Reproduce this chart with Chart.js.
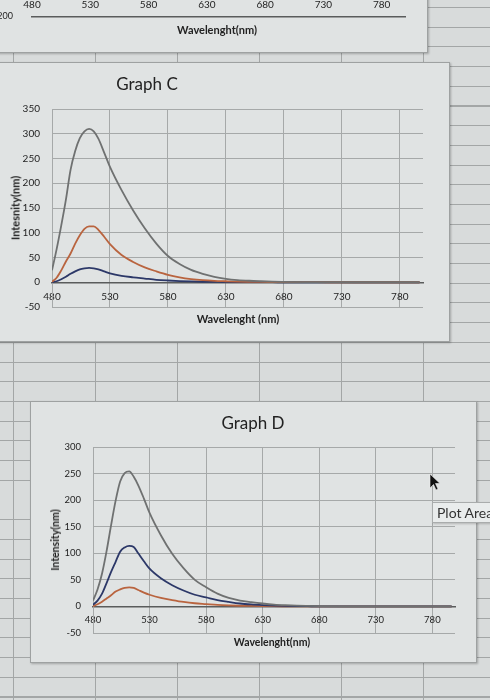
<!DOCTYPE html>
<html><head><meta charset="utf-8">
<script src="https://cdn.jsdelivr.net/npm/chart.js@4.4.1/dist/chart.umd.min.js"></script>
<style>
html,body{margin:0;padding:0;}
body{width:490px;height:700px;overflow:hidden;position:relative;background-color:#d8dbdb;
 background-image:
  repeating-linear-gradient(to right, transparent 0, transparent 13px, #a3a6a6 13px, #a3a6a6 14px, transparent 14px, transparent 82px),
  repeating-linear-gradient(to bottom, transparent 0, transparent 7px, #a3a6a6 7px, #a3a6a6 8px, transparent 8px, transparent 19.7px);
 font-family:Lato, "Open Sans", sans-serif;}
.box{position:absolute;background:#e0e3e3;border:1px solid #9ea1a1;box-shadow:1px 1px 2px rgba(0,0,0,0.25);}
canvas{position:absolute;}
.t{position:absolute;color:#222;white-space:nowrap;transform:translate(-50%,-50%);}
.title{font-size:17px;}
.ax{font-size:11px;font-weight:700;}
.axd{font-size:10.5px;font-weight:700;}
.rot{transform:translate(-50%,-50%) rotate(-90deg);}
.tip{position:absolute;left:432px;top:502px;width:80px;height:19px;background:#e9ecec;border:1px solid #a9acac;font-size:14px;color:#333;line-height:19px;padding-left:4px;box-shadow:1px 1px 2px rgba(0,0,0,0.2);}
</style></head>
<body>
<div class="box" style="left:-3px;top:-5px;width:429px;height:56px;"></div>
<div class="box" style="left:-3px;top:62px;width:451px;height:278px;"></div>
<div class="box" style="left:30px;top:401px;width:445px;height:260px;"></div>

<canvas id="top" width="427" height="52" style="left:0;top:0;width:427px;height:52px;"></canvas>
<canvas id="cC" width="448" height="279" style="left:0;top:62px;width:448px;height:279px;"></canvas>
<canvas id="cD" width="446" height="261" style="left:30px;top:401px;width:446px;height:261px;"></canvas>

<div class="t ax" style="left:217px;top:29px;">Wavelenght(nm)</div>
<div class="t title" style="left:147px;top:83px;">Graph C</div>
<div class="t ax rot" style="left:15px;top:208px;">Intesnity(nm)</div>
<div class="t ax" style="left:238px;top:318px;">Wavelenght (nm)</div>
<div class="t title" style="left:253px;top:422px;">Graph D</div>
<div class="t axd rot" style="left:55px;top:540px;">Intensity(nm)</div>
<div class="t axd" style="left:272px;top:642px;">Wavelenght(nm)</div>
<div class="tip">Plot Area</div>
<svg style="position:absolute;left:428px;top:473px;" width="16" height="20" viewBox="0 0 16 20">
 <polygon points="2,1 2,15 5.5,11.5 8,17 10,16 7.5,10.5 12,10.5" fill="#111" stroke="#eee" stroke-width="0.6"/>
</svg>

<script>
// ---- data ----
const wavelength = [480,484,488,492,496,500,504,508,512,516,520,525,530,540,550,560,570,580,590,600,610,620,630,640,650,660,670,680,700,720,740,760,780,797];

const cGray   = [24,67,115,167,227,265,291,305,310,305,290,262,233,186,145,109,78,53,37,25,17,11,7,4.5,3,2,1.2,0.8,0.3,0.1,0,0,0,0];
const cOrange = [1,9,24,42,58,78,95,108,113,113,106,92,77,55,41,30,22,15,10,6.5,4.2,2.8,2,1.3,0.9,0.6,0.4,0.2,0.1,0,0,0,0,0];
const cBlue   = [0,2,6,11,17,22,26,28,29,28,26,22,18,13,10,7.5,5,3.5,2.4,1.6,1,0.7,0.4,0.3,0.2,0.1,0.1,0,0,0,0,0,0,0];

const dGray   = [11,32,62,104,153,199,235,251,254,244,228,203,176,134,99,72,50,36,24,16,11,8,5.5,3.5,2.3,1.5,1,0.6,0.2,0,0,0,0,0];
const dBlue   = [3,11,24,44,65,84,103,111,114,112,100,85,71,53,40,30,22,17,12,8.5,5.5,3.7,2.5,1.6,1,0.6,0.4,0.2,0.1,0,0,0,0,0];
const dOrange = [0.5,4,9,15,21,28,32,35,36,35,31,26,22,16,12,8.5,6,4.5,3,2,1.3,0.9,0.6,0.4,0.3,0.2,0.1,0.1,0,0,0,0,0,0];

const xTicks = [480,530,580,630,680,730,780];
const xMin = 480, xMax = 800;
const cYMin = -50, cYMax = 350, dYMin = -50, dYMax = 300, yStep = 50;
const topYTicks = [-200];

// ---- styling ----
Chart.defaults.font.family = 'Lato, "Open Sans", sans-serif';
Chart.defaults.color = '#1e1e1e';
const GRAY = '#6f7171', ORANGE = '#b9643f', BLUE = '#2c3868';
const GRID = '#a6a9a9', AXIS = '#5a5c5c';

function pts(ys){ return wavelength.map((x,i)=>({x:x, y:ys[i]})); }
function ds(label, ys, color){
  return {label, data: pts(ys), borderColor: color, borderWidth: 1.8, pointRadius: 0,
          cubicInterpolationMode: 'monotone', fill: false};
}
function setXTicks(s){ s.ticks = xTicks.map(v=>({value:v})); }

function spectrumChart(id, sets, yMin, yMax, pad, yWidth, fontSize, yPad, xPad){
  return new Chart(document.getElementById(id), {
    type: 'line',
    data: {datasets: sets},
    options: {
      responsive: false, animation: false, devicePixelRatio: 1,
      layout: {padding: pad},
      plugins: {legend: {display: false}, tooltip: {enabled: false}},
      scales: {
        x: {type: 'linear', min: xMin, max: xMax, position: {y: 0},
            afterBuildTicks: setXTicks,
            grid: {color: GRID, drawTicks: false},
            border: {color: AXIS, width: 1.4},
            ticks: {font: {size: fontSize}, padding: xPad, maxRotation: 0, autoSkip: false}},
        y: {min: yMin, max: yMax,
            afterFit: s => { s.width = yWidth; },
            grid: {color: GRID, drawTicks: false},
            border: {color: GRID},
            ticks: {stepSize: yStep, font: {size: fontSize}, padding: yPad}}
      }
    }
  });
}

spectrumChart('cC', [ds('Gray', cGray, GRAY), ds('Orange', cOrange, ORANGE), ds('Blue', cBlue, BLUE)],
  cYMin, cYMax, {left:0, top:47, right:25, bottom:34}, 52, 10, 12, 9);
spectrumChart('cD', [ds('Gray', dGray, GRAY), ds('Blue', dBlue, BLUE), ds('Orange', dOrange, ORANGE)],
  dYMin, dYMax, {left:0, top:46, right:21, bottom:29}, 63, 9.5, 12, 8);

// remnant of the chart above (only its horizontal axis is visible)
new Chart(document.getElementById('top'), {
  type: 'line',
  data: {datasets: []},
  options: {
    responsive: false, animation: false, devicePixelRatio: 1,
    layout: {padding: {left:0, top:7, right:22, bottom:36}},
    plugins: {legend: {display: false}, tooltip: {enabled: false}},
    scales: {
      x: {type: 'linear', min: xMin, max: xMax, position: 'bottom',
          afterBuildTicks: setXTicks, afterFit: s => { s.height = 0; },
          grid: {color: GRID, drawTicks: false},
          border: {color: AXIS, width: 1.4},
          ticks: {mirror: true, font: {size: 10}, padding: 6, maxRotation: 0, autoSkip: false}},
      y: {min: -200, max: 200,
          afterBuildTicks: s => { s.ticks = topYTicks.map(v=>({value:v})); },
          afterFit: s => { s.width = 32; },
          grid: {display: false}, border: {display: false},
          ticks: {font: {size: 9}, padding: 11}}
    }
  }
});
</script>
</body></html>
